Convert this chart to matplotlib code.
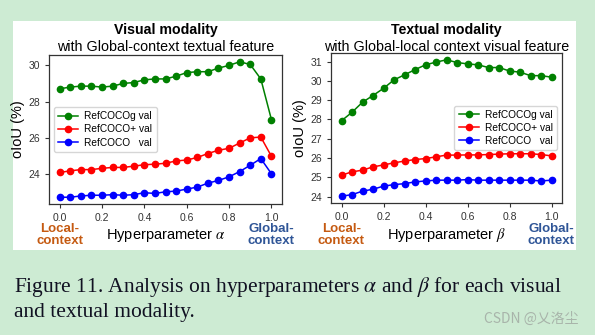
import matplotlib
matplotlib.use("Agg")
import matplotlib.pyplot as plt
from matplotlib.patches import Rectangle
from matplotlib.ticker import MultipleLocator
from matplotlib.transforms import blended_transform_factory

# hyperparameter grid (alpha / beta)
steps = [i / 20 for i in range(21)]

# Visual modality (alpha)
vis_refcocog = [28.70, 28.80, 28.85, 28.85, 28.80, 28.85, 29.00, 29.05, 29.20, 29.25, 29.25,
                29.40, 29.60, 29.65, 29.65, 29.85, 30.00, 30.20, 30.05, 29.25, 27.00]
vis_refcocop = [24.07, 24.16, 24.23, 24.23, 24.30, 24.35, 24.35, 24.42, 24.50, 24.53, 24.58,
                24.71, 24.76, 24.90, 25.12, 25.30, 25.41, 25.70, 25.99, 26.03, 24.97]
vis_refcoco = [22.70, 22.70, 22.77, 22.81, 22.81, 22.84, 22.81, 22.84, 22.95, 22.91, 23.00,
               23.04, 23.15, 23.26, 23.48, 23.63, 23.83, 24.12, 24.47, 24.84, 24.00]

# Textual modality (beta)
txt_refcocog = [27.93, 28.37, 28.89, 29.24, 29.61, 30.05, 30.31, 30.58, 30.83, 30.97, 31.09,
                30.95, 30.88, 30.83, 30.69, 30.69, 30.51, 30.45, 30.27, 30.27, 30.19]
txt_refcocop = [25.11, 25.28, 25.37, 25.54, 25.64, 25.75, 25.84, 25.92, 25.97, 26.06, 26.15,
                26.15, 26.16, 26.16, 26.18, 26.20, 26.22, 26.22, 26.22, 26.18, 26.11]
txt_refcoco = [24.02, 24.10, 24.28, 24.38, 24.54, 24.62, 24.67, 24.76, 24.81, 24.85, 24.85,
               24.85, 24.88, 24.85, 24.85, 24.85, 24.85, 24.85, 24.85, 24.81, 24.85]

series_labels = ["RefCOCOg val", "RefCOCO+ val", "RefCOCO   val"]
series_colors = ["green", "red", "blue"]

titles = ["Visual modality", "Textual modality"]
subtitles = ["with Global-context textual feature", "with Global-local context visual feature"]
xlabels = [r"Hyperparameter $\alpha$", r"Hyperparameter $\beta$"]
legend_locs = ["center left", "center right"]
ytick_steps = [2, 1]

caption_lines = ["Figure 11. Analysis on hyperparameters $\\alpha$ and $\\beta$ for each visual",
                 "and textual modality."]

plt.rcParams["font.family"] = ["Liberation Sans", "DejaVu Sans"]
plt.rcParams["mathtext.fontset"] = "stix"

W, H = 595, 335
fig = plt.figure(figsize=(W / 100, H / 100), dpi=100, facecolor="#cdebd3")
fig.patches.append(Rectangle((13 / W, 1 - 250 / H), 563 / W, 229 / H,
                             transform=fig.transFigure, facecolor="white",
                             edgecolor="none", zorder=-10))


def fx(px):
    return px / W


def fy(py):
    return 1 - py / H


axes_boxes = [(49, 55, 282, 204), (331, 53, 562, 203)]
data = [(vis_refcocog, vis_refcocop, vis_refcoco), (txt_refcocog, txt_refcocop, txt_refcoco)]

for i, (box, ys) in enumerate(zip(axes_boxes, data)):
    x0, y0, x1, y1 = box
    ax = fig.add_axes([fx(x0), fy(y1), fx(x1 - x0), (y1 - y0) / H])
    for vals, lab, col in zip(ys, series_labels, series_colors):
        ax.plot(steps, vals, color=col, marker="o", markersize=4.5, linewidth=1.1, label=lab)
    ax.set_xticks([0.0, 0.2, 0.4, 0.6, 0.8, 1.0])
    ax.yaxis.set_major_locator(MultipleLocator(ytick_steps[i]))
    ax.tick_params(labelsize=7.5, labelcolor="#333333", length=3, width=0.8, color="#333333")
    for sp in ax.spines.values():
        sp.set_color("#333333")
        sp.set_linewidth(0.9)
    ax.legend(loc=legend_locs[i], fontsize=7.3, handlelength=2.0, borderpad=0.4,
              labelspacing=0.3, handletextpad=0.6)
    ax.set_ylabel("oIoU (%)", fontsize=10.5, labelpad=2)
    cx = (x0 + x1) / 2
    fig.text(fx(cx), fy(30), titles[i], fontsize=10.2, fontweight="bold", ha="center", va="center")
    fig.text(fx(cx), fy(47), subtitles[i], fontsize=10.3, ha="center", va="center")
    fig.text(fx(cx), fy(235), xlabels[i], fontsize=10.5, ha="center", va="center")
    tr = blended_transform_factory(ax.transData, fig.transFigure)
    ax.text(0.0, fy(235), "Local-\ncontext", transform=tr, ha="center", va="center",
            fontsize=9.5, fontweight="bold", color="#c55a11", linespacing=1.1)
    ax.text(1.0, fy(235), "Global-\ncontext", transform=tr, ha="center", va="center",
            fontsize=9.5, fontweight="bold", color="#2f5597", linespacing=1.1)

for k, line in enumerate(caption_lines):
    fig.text(fx(14), fy(292 + 25 * k), line, fontsize=15.5,
             family=["Liberation Serif", "DejaVu Serif"],
             color="#111122", ha="left", va="baseline")
fig.text(fx(578), fy(319), "CSDN @乂洛尘", fontsize=10, color="#a8b4aa",
         family=["Noto Sans CJK SC", "DejaVu Sans"], ha="right", va="center")

fig.savefig("out.png", dpi=100, facecolor=fig.get_facecolor())
